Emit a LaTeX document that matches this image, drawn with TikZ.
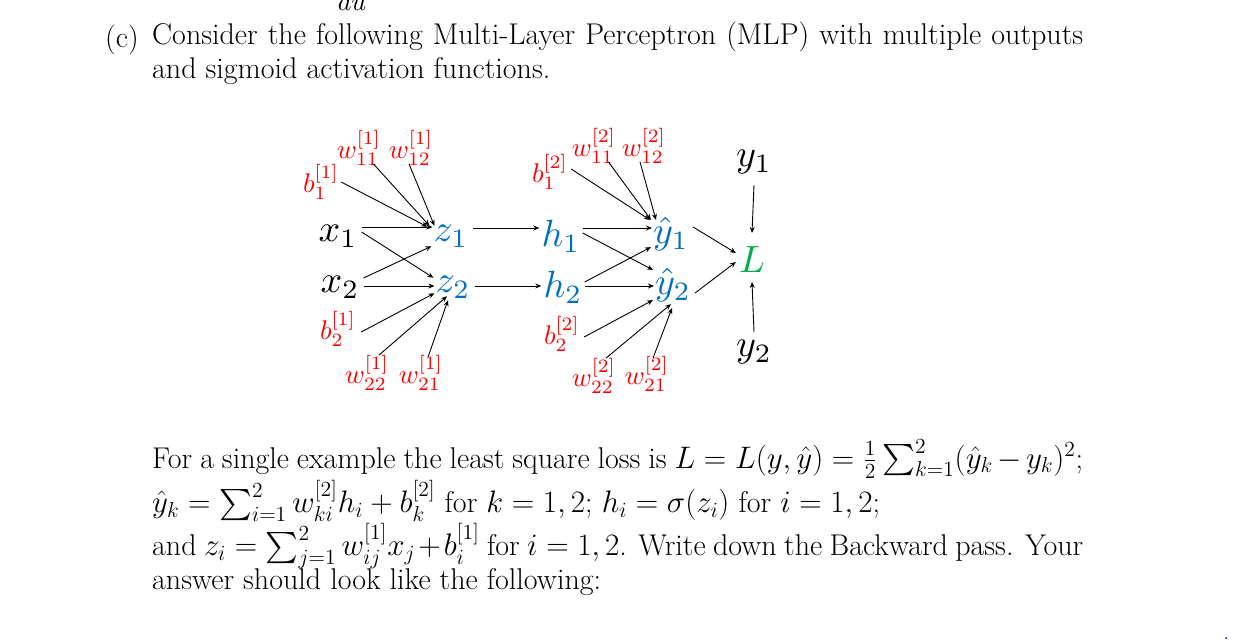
\documentclass[tikz,border=0pt]{standalone}
\usepackage{amsmath}
\usepackage{fontspec}
\usetikzlibrary{arrows.meta}
\newcommand{\bigger}[2]{\scalebox{#1}{#2}}
\begin{document}
\begin{tikzpicture}[x=1pt,y=-1pt,
  lab/.style={text=red,inner sep=0pt},
  var/.style={inner sep=0pt},
  con/.style={-{Stealth[length=6pt,width=5pt]},line width=0.9pt},
  para/.style={anchor=north west,inner sep=0pt}]
\useasboundingbox (0,0) rectangle (1234,643);
\node[inner sep=0pt] (du) at (352,1) {\bigger{2.6}{$du$}};
\node[anchor=base west,inner sep=0pt] (c) at (105,47) {\bigger{1.5}{\fontsize{20}{24}\selectfont(c)}};
\node[para] (p1) at (152,22) {\bigger{1.5}{\parbox[t]{620.67pt}{\fontsize{20}{22.6}\selectfont Consider the following Multi-Layer Perceptron (MLP) with multiple outputs and sigmoid activation functions.}}};
\node[para] (p2) at (152,439) {\bigger{1.5}{\parbox[t]{620.67pt}{\fontsize{20}{22.6}\selectfont\lineskiplimit=-4pt For a single example the least square loss is $L=L(y,\hat y)=\frac12\sum_{k=1}^{2}(\hat y_k-y_k)^2$;\\
$\hat y_k=\sum_{i=1}^{2}w_{ki}^{[2]}h_i+b_k^{[2]}$ for $k=1,2$; $h_i=\sigma(z_i)$ for $i=1,2$;\\
and $z_i=\sum_{j=1}^{2}w_{ij}^{[1]}x_j+b_i^{[1]}$ for $i=1,2$. Write down the Backward pass. Your answer should look like the following:}}};
% variables
\node[var] (x1) at (338,236) {\bigger{3.8}{$x_1$}};
\node[var] (x2) at (340,287) {\bigger{3.8}{$x_2$}};
\node[var,text={rgb,255:red,0;green,112;blue,192}] (z1) at (451,236) {\bigger{3.8}{$z_1$}};
\node[var,text={rgb,255:red,0;green,112;blue,192}] (z2) at (453,287) {\bigger{3.8}{$z_2$}};
\node[var,text={rgb,255:red,0;green,112;blue,192}] (h1) at (561,236) {\bigger{3.8}{$h_1$}};
\node[var,text={rgb,255:red,0;green,112;blue,192}] (h2) at (563,287) {\bigger{3.8}{$h_2$}};
\node[var,text={rgb,255:red,0;green,112;blue,192}] (yh1) at (671,234) {\bigger{3.8}{$\hat y_1$}};
\node[var,text={rgb,255:red,0;green,112;blue,192}] (yh2) at (673,285) {\bigger{3.8}{$\hat y_2$}};
\node[var,text={rgb,255:red,0;green,176;blue,80}] (L) at (752,260) {\bigger{3.8}{$L$}};
\node[var] (y1) at (754,162) {\bigger{3.8}{$y_1$}};
\node[var] (y2) at (754,352) {\bigger{3.8}{$y_2$}};
% labels
\node[lab] (w111) at (359,148) {\bigger{2.7}{$w_{11}^{[1]}$}};
\node[lab] (w121) at (411,148) {\bigger{2.7}{$w_{12}^{[1]}$}};
\node[lab] (b11) at (321,182) {\bigger{2.7}{$b_1^{[1]}$}};
\node[lab] (b21) at (338,329) {\bigger{2.7}{$b_2^{[1]}$}};
\node[lab] (w221) at (367,373) {\bigger{2.7}{$w_{22}^{[1]}$}};
\node[lab] (w211) at (421,373) {\bigger{2.7}{$w_{21}^{[1]}$}};
\node[lab] (w112) at (594,146) {\bigger{2.7}{$w_{11}^{[2]}$}};
\node[lab] (w122) at (644,146) {\bigger{2.7}{$w_{12}^{[2]}$}};
\node[lab] (b12) at (550,172) {\bigger{2.7}{$b_1^{[2]}$}};
\node[lab] (b22) at (562,334) {\bigger{2.7}{$b_2^{[2]}$}};
\node[lab] (w222) at (594,376) {\bigger{2.7}{$w_{22}^{[2]}$}};
\node[lab] (w212) at (647,374) {\bigger{2.7}{$w_{21}^{[2]}$}};
% connectors
\draw[con] ([xshift=4pt]x1.east |- 0,227) -- ([xshift=-1pt]z1.west |- 0,227);
\draw[con] ([xshift=4pt]x1.east |- 0,232) -- ([xshift=-2pt,yshift=-2pt]z2.north west);
\draw[con] ([xshift=4pt]x2.east |- 0,278) -- ([xshift=-2pt,yshift=1pt]z1.south west);
\draw[con] ([xshift=4pt]x2.east |- 0,286) -- ([xshift=-1pt]z2.west |- 0,286);
\draw[con] ([xshift=4pt]z1.east |- 0,228) -- ([xshift=-2pt]h1.west |- 0,228);
\draw[con] ([xshift=4pt]z2.east |- 0,286) -- ([xshift=-2pt]h2.west |- 0,286);
\draw[con] ([xshift=2pt]h1.east |- 0,228) -- ([xshift=-1pt]yh1.west |- 0,228);
\draw[con] ([xshift=2pt]h1.east |- 0,233) -- ([xshift=-2pt,yshift=-2pt]yh2.north west);
\draw[con] ([xshift=2pt]h2.east |- 0,282) -- ([xshift=-2pt,yshift=4pt]yh1.south west);
\draw[con] ([xshift=2pt]h2.east |- 0,286) -- ([xshift=-1pt]yh2.west |- 0,286);
\draw[con] ([xshift=4pt]yh1.east |- 0,227) -- ([xshift=-3pt]L.west |- 0,253);
\draw[con] ([xshift=4pt]yh2.east |- 0,293) -- ([xshift=-3pt]L.west |- 0,262);
\draw[con] (y1.south |- 0,185) -- (L.north |- 0,233);
\draw[con] (y2.north |- 0,332) -- (L.south |- 0,282);
\draw[con] ([xshift=2pt]b11.east) -- ([xshift=-6pt,yshift=-2pt]z1.north west);
\draw[con] ([xshift=-8pt,yshift=2pt]w111.south east) -- ([xshift=-4pt,yshift=-1pt]z1.north west);
\draw[con] ([xshift=-2pt,yshift=2pt]w121.south) -- ([xshift=1pt,yshift=-1pt]z1.north west);
\draw[con] ([xshift=5pt,yshift=-3pt]b21.east) -- ([xshift=-1pt,yshift=5pt]z2.south west);
\draw[con] ([xshift=12pt]w221.north) -- ([xshift=-6pt,yshift=2pt]z2.south);
\draw[con] ([xshift=7pt,yshift=-2pt]w211.north) -- ([xshift=-5pt,yshift=-2pt]z2.south);
\draw[con] ([xshift=3pt,yshift=3pt]b12.east) -- ([xshift=-3pt,yshift=-3pt]yh1.north west);
\draw[con] ([xshift=-8pt,yshift=2pt]w112.south east) -- ([xshift=-2pt,yshift=-3pt]yh1.north west);
\draw[con] ([xshift=-4pt,yshift=2pt]w122.south) -- ([xshift=3pt,yshift=-3pt]yh1.north west);
\draw[con] ([xshift=4pt,yshift=-3pt]b22.east) -- ([xshift=-2pt,yshift=2pt]yh2.south west);
\draw[con] ([xshift=12pt]w222.north) -- ([xshift=-2pt,yshift=-2pt]yh2.south);
\draw[con] ([xshift=6pt,yshift=-2pt]w212.north) -- ([xshift=-1pt,yshift=-6pt]yh2.south);
\fill[blue!70!black] (1226,638) circle (1pt);
\end{tikzpicture}
\end{document}
